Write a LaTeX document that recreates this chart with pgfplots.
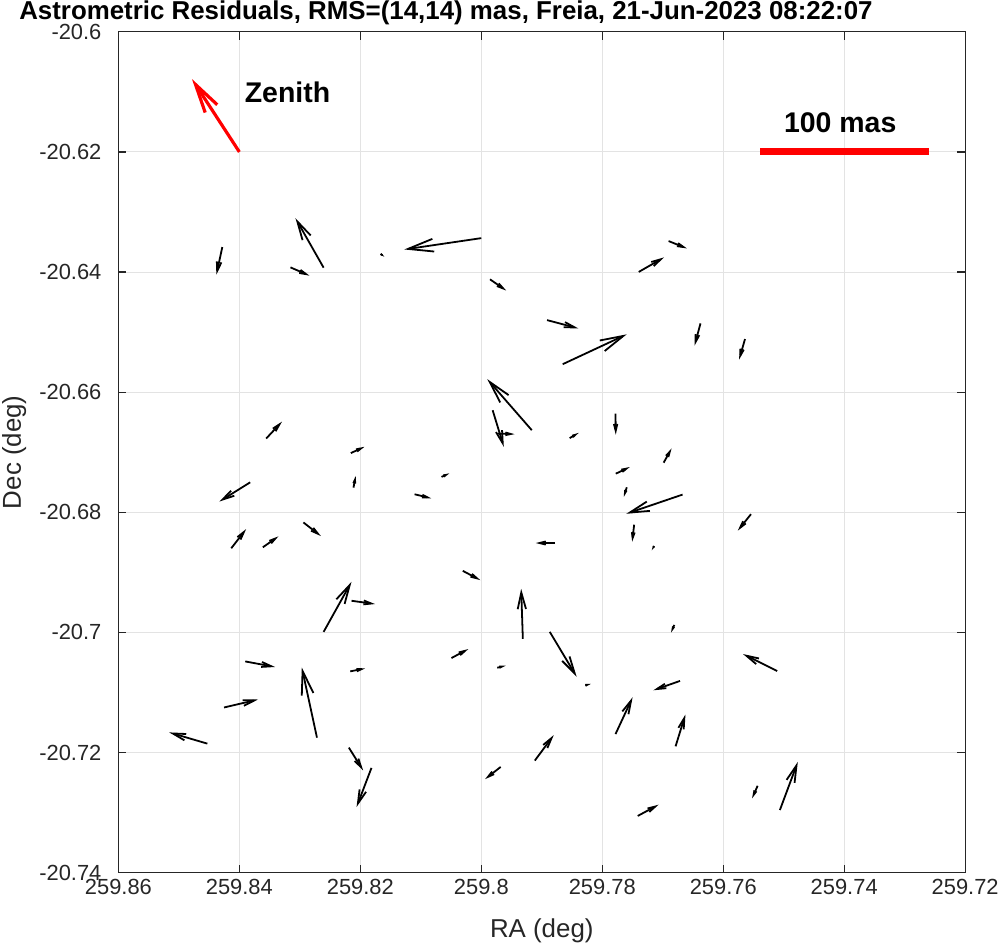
\documentclass[border=0pt]{standalone}
\usepackage{fontspec}
\setmainfont{Liberation Sans}
\usepackage{pgfplots}
\usepackage{pgfplotstable}
\pgfplotsset{compat=1.18}
\usetikzlibrary{arrows.meta}
\definecolor{axgray}{rgb}{0.15,0.15,0.15}

% residual vectors: position (deg) and offset (deg)
\pgfplotstableread{
x y u v
259.84282 -20.63584 0.000988 -0.004590
259.82607 -20.63927 0.004661 0.008235
259.83155 -20.63922 -0.003129 -0.001375
259.81635 -20.63720 -0.000329 -0.000249
259.80000 -20.63435 0.012732 -0.001889
259.79856 -20.64121 -0.002685 -0.001872
259.78913 -20.64800 -0.005172 -0.001375
259.78654 -20.65534 -0.010591 0.004971
259.77397 -20.63998 -0.004184 0.002419
259.76903 -20.63484 -0.003031 -0.001226
259.76376 -20.64855 0.000988 -0.003695
259.75640 -20.65115 0.000988 -0.003413
259.79165 -20.66633 0.007363 0.008500
259.79812 -20.66301 -0.001861 -0.006081
259.79725 -20.66689 -0.002751 -0.000099
259.78539 -20.66765 -0.001482 0.000878
259.77781 -20.66358 -0.000049 -0.003479
259.76985 -20.67174 -0.001318 0.002369
259.77776 -20.67357 -0.002306 0.001110
259.77595 -20.67584 0.000494 -0.001591
259.76672 -20.67705 0.009323 -0.003198
259.77473 -20.68207 0.000329 -0.002817
259.77155 -20.68583 0.000280 -0.000497
259.80658 -20.67411 -0.001318 0.000596
259.81103 -20.67700 -0.002751 -0.000663
259.78781 -20.68512 0.003179 0.000000
259.80306 -20.68975 -0.002899 -0.001541
259.75541 -20.68031 0.002191 -0.002750
259.83557 -20.66772 -0.002635 0.002817
259.82157 -20.67014 -0.002257 0.001044
259.82113 -20.67589 -0.000379 0.001939
259.83821 -20.67501 0.005106 -0.003198
259.84134 -20.68599 -0.002471 0.003198
259.83612 -20.68583 -0.002586 0.001823
259.82941 -20.68169 -0.002899 -0.002270
259.82607 -20.69991 -0.004612 0.008334
259.82146 -20.69473 -0.003904 -0.000547
259.79313 -20.70107 0.000280 0.008334
259.78868 -20.69991 -0.004447 -0.007456
259.80494 -20.70427 -0.002800 0.001491
259.79736 -20.70588 -0.001384 0.000331
259.78280 -20.70881 -0.000922 0.000232
259.76809 -20.69875 0.000544 -0.001276
259.76715 -20.70808 0.004398 -0.001557
259.77781 -20.71693 -0.002849 0.006131
259.76788 -20.71897 -0.001647 0.005302
259.79115 -20.72134 -0.003129 0.004242
259.79680 -20.72240 0.002586 -0.002038
259.77414 -20.73056 -0.003459 0.001872
259.75108 -20.70642 0.005650 0.002817
259.75063 -20.72957 -0.002965 0.008003
259.75431 -20.72554 0.000939 -0.002088
259.83903 -20.70483 -0.004941 -0.000928
259.82717 -20.71752 0.002520 0.011698
259.82167 -20.70649 -0.002471 0.000497
259.84254 -20.71250 -0.005650 0.001326
259.84529 -20.71852 0.006308 0.001872
259.82190 -20.71918 -0.002372 -0.003811
259.81816 -20.72256 0.002471 -0.006512
}\resid

\pgfplotstableread{
x y u v
259.84 -20.62 0.007857 0.012145
}\zenith

\pgfplotsset{
  barbs/.style={
    point meta={sqrt((\thisrow{u})^2+(\thisrow{v})^2)},
    quiver={u=\thisrow{u},v=\thisrow{v},
      every arrow/.append style={-{Straight Barb[length=0.02pt*\pgfplotspointmetatransformed,width=0.01pt*\pgfplotspointmetatransformed]}}},
  },
}

\begin{document}
\begin{tikzpicture}
\begin{axis}[
  name=ax,
  width=425.5pt,height=422.5pt,scale only axis,
  x dir=reverse,
  xmin=259.72,xmax=259.86,ymin=-20.74,ymax=-20.6,
  xtick={259.72,259.74,259.76,259.78,259.8,259.82,259.84,259.86},
  ytick={-20.74,-20.72,-20.7,-20.68,-20.66,-20.64,-20.62,-20.6},
  point meta min=0,point meta max=0.02,
  grid=major,
  grid style={black!11,line width=0.5pt},
  axis line style={axgray,line width=0.6pt},
  tick align=inside,
  major tick length=4pt,
  tick style={axgray,line width=0.6pt},
  tick label style={font=\fontsize{11}{13}\selectfont,text=axgray},
  yticklabel style={xshift=-5pt},
  /pgf/number format/assume math mode=true,
  xlabel={RA (deg)},ylabel={Dec (deg)},
  every axis x label/.style={at={(rel axis cs:0.5,0)},anchor=base,yshift=-32.5pt,
    font=\fontsize{13}{15}\selectfont,text=axgray},
  every axis y label/.style={at={(rel axis cs:-0.1152,0.5)},rotate=90,anchor=base,
    font=\fontsize{13}{15}\selectfont,text=axgray},
  title={Astrometric Residuals, RMS=(14,14) mas, Freia, 21-Jun-2023 08:22:07},
  every axis title/.style={at={(rel axis cs:0,1)},anchor=base west,inner sep=0pt,
    xshift=-50pt,yshift=6.4pt,font=\bfseries\fontsize{13}{15}\selectfont},
]
\addplot[black,line width=0.9pt,barbs] table {\resid};
\addplot[red,line width=1.6pt,barbs] table {\zenith};
\addplot[red,line width=3.5pt] coordinates {(259.75388,-20.62) (259.72604,-20.62)};
\node[anchor=base west,font=\bfseries\fontsize{14.3}{16}\selectfont] at (rel axis cs:0.141,0.9156) {Zenith};
\node[anchor=base,font=\bfseries\fontsize{14.3}{16}\selectfont] at (rel axis cs:0.8525,0.8801) {100 mas};
\end{axis}
\pgfresetboundingbox
\path (ax.south west) ++(-59.5pt,-37.9pt) rectangle ++(502.5pt,476.4pt);
\end{tikzpicture}
\end{document}
